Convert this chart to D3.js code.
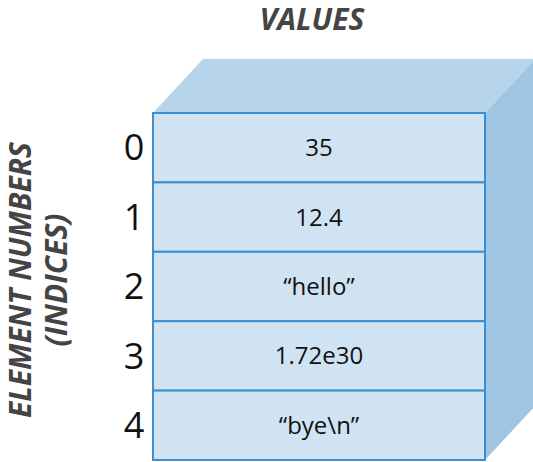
<!DOCTYPE html>
<html><head><meta charset="utf-8">
<script src="https://cdn.jsdelivr.net/npm/d3@7"></script>
<style>body{margin:0;background:#fff}</style>
</head><body>
<script>
const indices = [0, 1, 2, 3, 4]
const values = ['35', '12.4', '\u201chello\u201d', '1.72e30', '\u201cbye\\n\u201d']

const W = 533, H = 462
const x0 = 153, x1 = 485, yTop = 113, yBottom = 460
const dx = 50, dy = -54
const font = "'Liberation Sans Narrow', 'Open Sans', sans-serif"

const svg = d3.select('body').append('svg').attr('width', W).attr('height', H)

const y = d3.scaleBand().domain(indices).range([yTop, yBottom])

// top face
svg.append('path')
  .attr('d', `M${x0},${yTop}L${x0 + dx},${yTop + dy}L${x1 + dx},${yTop + dy}L${x1},${yTop}Z`)
  .attr('fill', '#b6d4ea')
// right face
svg.append('path')
  .attr('d', `M${x1},${yTop}L${x1 + dx},${yTop + dy}L${x1 + dx},${yBottom + dy}L${x1},${yBottom}Z`)
  .attr('fill', '#9fc5e3')

const rows = svg.selectAll('g.row').data(indices).join('g').attr('class', 'row')
rows.append('rect')
  .attr('x', x0).attr('y', d => y(d))
  .attr('width', x1 - x0).attr('height', y.bandwidth())
  .attr('fill', '#d0e3f2').attr('stroke', '#3d8fd0').attr('stroke-width', 2)
rows.append('text')
  .attr('x', (x0 + x1) / 2).attr('y', d => y(d) + y.bandwidth() / 2)
  .attr('dy', '0.35em').attr('text-anchor', 'middle')
  .attr('font-family', font).attr('font-size', 24).attr('fill', '#111')
  .text(d => values[d])
rows.append('text')
  .attr('x', 134).attr('y', d => y(d) + y.bandwidth() / 2)
  .attr('dy', '0.35em').attr('text-anchor', 'middle')
  .attr('font-family', font).attr('font-size', 36).attr('fill', '#111')
  .text(d => d)

svg.append('text').attr('x', 312).attr('y', 30).attr('text-anchor', 'middle')
  .attr('font-family', font).attr('font-size', 30).attr('font-weight', 'bold')
  .attr('font-style', 'italic').attr('fill', '#444').text('VALUES')

const lab = svg.append('g').attr('transform', 'translate(39,280) rotate(-90)')
  .attr('font-family', font).attr('font-size', 30).attr('font-weight', 'bold')
  .attr('font-style', 'italic').attr('fill', '#444').attr('text-anchor', 'middle')
lab.append('text').attr('y', -8).text('ELEMENT NUMBERS')
lab.append('text').attr('y', 28).text('(INDICES)')
</script>
</body></html>
